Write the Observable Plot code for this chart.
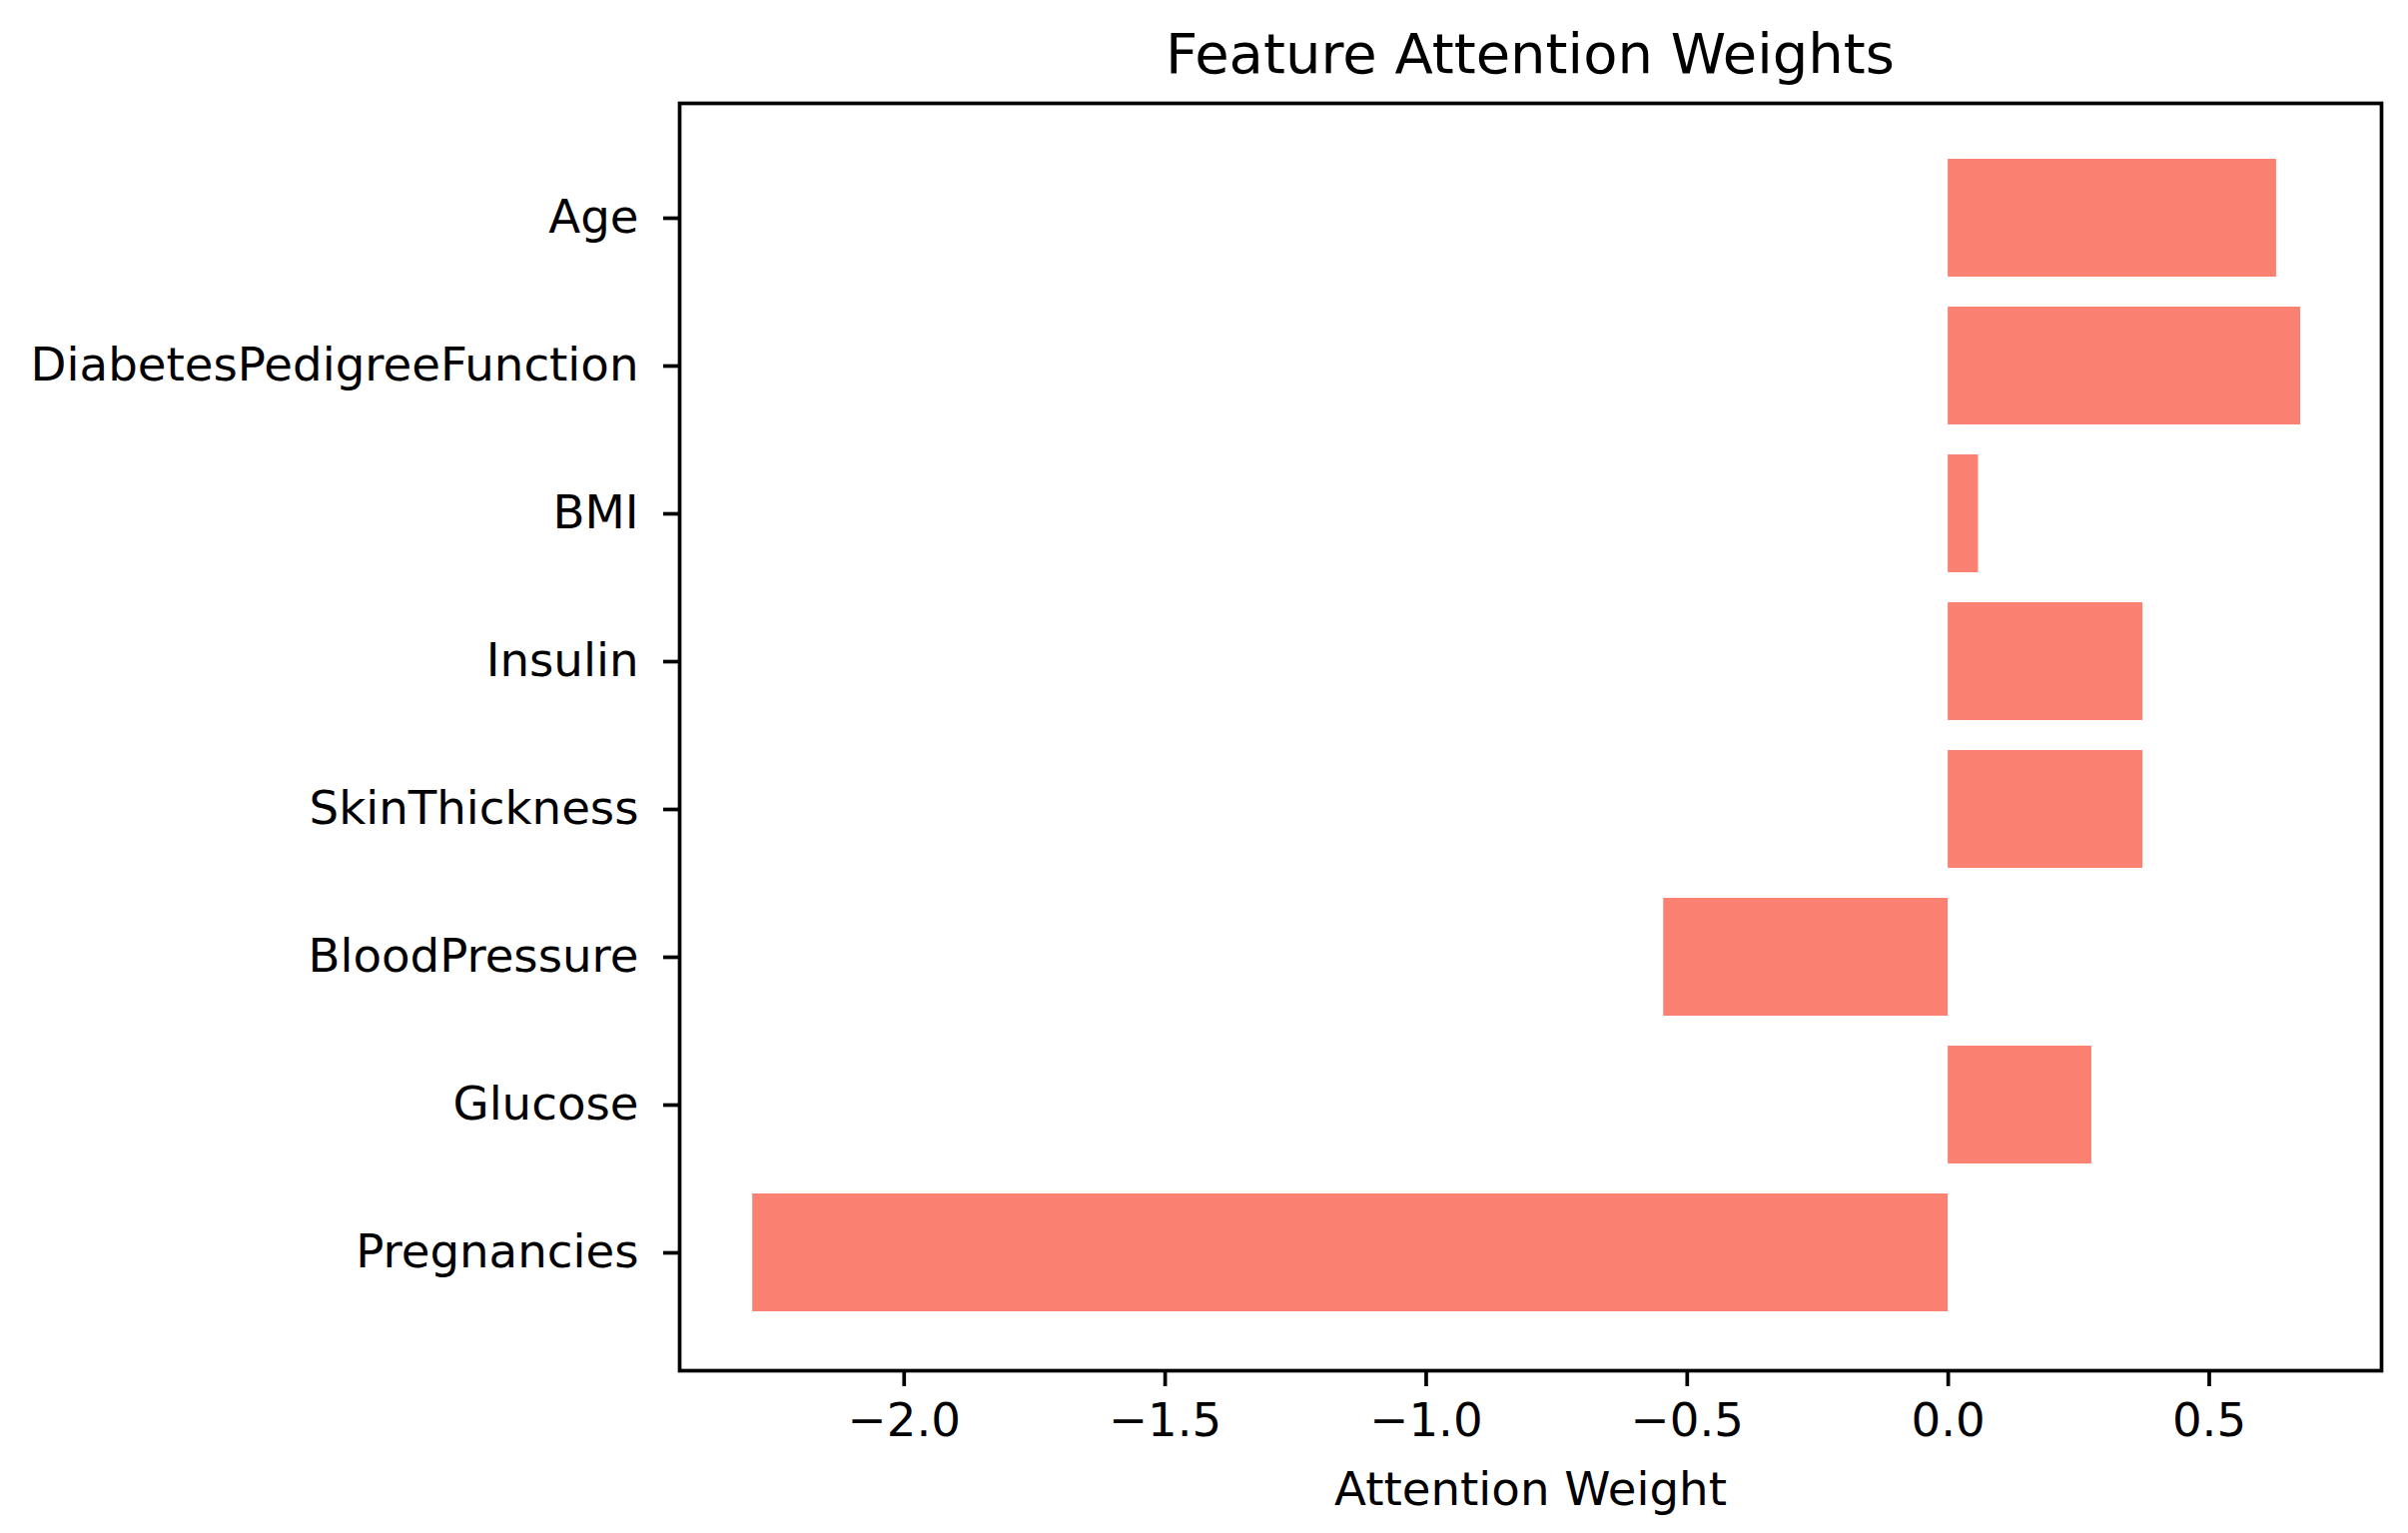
<!DOCTYPE html>
<html>
<head>
<meta charset="utf-8">
<script src="https://cdn.jsdelivr.net/npm/d3@7"></script>
<script src="https://cdn.jsdelivr.net/npm/@observablehq/plot@0.6"></script>
<style>
  html, body { margin: 0; padding: 0; background: #fff; }
  #title { font-family: "DejaVu Sans", sans-serif; font-size: 56px; line-height: 70px; height: 89px; box-sizing: border-box; padding-top: 19px; text-align: center; width: 2411px; padding-left: 653px; color: #000; }
  #title span { display: inline-block; }
  #chart svg { display: block; }
</style>
</head>
<body>
<div id="title"><span>Feature Attention Weights</span></div>
<div id="chart"></div>
<script>
const features = ["Pregnancies", "Glucose", "BloodPressure", "SkinThickness", "Insulin", "BMI", "DiabetesPedigreeFunction", "Age"];
const weights = [-2.29, 0.275, -0.545, 0.373, 0.373, 0.058, 0.675, 0.629];
const xTicks = [-2.0, -1.5, -1.0, -0.5, 0.0, 0.5];
const xLabel = "Attention Weight";

const data = features.map((f, i) => ({feature: f, value: weights[i]}));
const fmt = v => v.toFixed(1).replace("-", "\u2212");

const plot = Plot.plot({
  width: 2411,
  height: 1446,
  marginTop: 14,
  marginBottom: 163,
  marginLeft: 680,
  marginRight: 27,
  style: {fontFamily: "DejaVu Sans", fontSize: "46.7px", background: "white", color: "black"},
  x: {domain: [-2.43, 0.83]},
  y: {domain: features.slice().reverse(), paddingInner: 0.2, paddingOuter: 0.385, range: [12.5, 1281.5]},
  marks: [
    Plot.barX(data, {x: "value", y: "feature", fill: "#FA8072"}),
    Plot.frame({stroke: "black", strokeWidth: 3.7}),
    Plot.axisX({ticks: xTicks, tickFormat: fmt, tickSize: 16, tickPadding: 16, strokeWidth: 3.7, label: xLabel, labelAnchor: "center", labelArrow: "none", labelOffset: 134, fontSize: 46.7}),
    Plot.axisY({tickSize: 16, tickPadding: 25, strokeWidth: 3.7, label: null, fontSize: 46.7})
  ]
});
document.getElementById("chart").appendChild(plot);
</script>
</body>
</html>
